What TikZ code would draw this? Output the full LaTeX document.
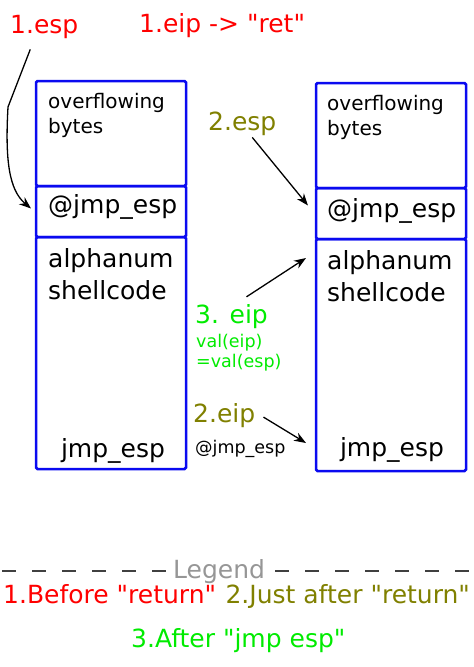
\documentclass[tikz,border=0pt]{standalone}
\usepackage{fontspec}
\setmainfont{DejaVu Sans}[Ligatures=TeXOff]
\usetikzlibrary{arrows.meta,calc,positioning}
\definecolor{stackblue}{RGB}{10,10,240}
\definecolor{redtext}{RGB}{255,0,0}
\definecolor{olivetext}{RGB}{128,128,0}
\definecolor{greentext}{RGB}{0,235,0}
\definecolor{legendgray}{RGB}{150,150,150}

\begin{document}
\begin{tikzpicture}[x=1pt,y=-1pt,
    cell/.style={draw=stackblue,line width=2.5pt,rounded corners=1.5pt,minimum width=150pt,inner sep=0pt,outer sep=0pt},
    big/.style={inner sep=0pt,font=\fontsize{25}{32}\selectfont},
    mid/.style={inner sep=0pt,font=\fontsize{20}{25}\selectfont},
    small/.style={inner sep=0pt,font=\fontsize{17.5}{20}\selectfont},
    ptr/.style={-{Stealth[length=12pt,width=9pt]},line width=1.3pt},
    legline/.style={line width=1.5pt,black!75,dash pattern=on 14pt off 16pt}]
            \useasboundingbox (0,0) rectangle (474,667);
            \node[cell,minimum height=105pt,anchor=north west] (ovlA) at (36,81) {};
            \node[cell,minimum height=51pt,below=0pt of ovlA] (jmpA) {};
            \node[cell,minimum height=232pt,below=0pt of jmpA] (shellA) {};
            \node[cell,minimum height=105pt,anchor=north west] (ovlB) at (316,83) {};
            \node[cell,minimum height=51pt,below=0pt of ovlB] (jmpB) {};
            \node[cell,minimum height=232pt,below=0pt of jmpB] (shellB) {};
            \node[mid,align=left,anchor=base west] (ovltxtA) at ($(ovlA.north west)+(12,52)$) {overflowing\\bytes};
            \node[big,anchor=base west] (jmptxtA) at ($(jmpA.north west)+(12,27)$) {@jmp\_esp};
            \node[big,align=left,anchor=base west] (shelltxtA) at ($(shellA.north west)+(12,62)$) {alphanum\\shellcode};
            \node[big,anchor=base] (endtxtA) at ($(shellA.south)+(2,-12)$) {jmp\_esp};
            \node[mid,align=left,anchor=base west] (ovltxtB) at ($(ovlB.north west)+(11,52)$) {overflowing\\bytes};
            \node[big,anchor=base west] (jmptxtB) at ($(jmpB.north west)+(11,29)$) {@jmp\_esp};
            \node[big,align=left,anchor=base west] (shelltxtB) at ($(shellB.north west)+(11,62)$) {alphanum\\shellcode};
            \node[big,anchor=base] (endtxtB) at ($(shellB.south)+(1,-15)$) {jmp\_esp};
            \node[big,text=redtext,anchor=base west] (esp1) at (10,33) {1.esp};
            \node[big,text=redtext,anchor=base west] (eip1) at (139,32) {1.eip -> "ret"};
            \node[big,text=olivetext,anchor=base west] (esp2) at (208,130) {2.esp};
            \node[big,text=greentext,anchor=base west] (eip3) at (195,323) {3. eip};
            \node[small,text=greentext,align=left,anchor=base west] (val3) at (196,367) {val(eip)\\=val(esp)};
            \node[big,text=olivetext,anchor=base west] (eip2) at (193,422) {2.eip};
            \node[small,anchor=base west] (jmpaddr) at (195,453) {@jmp\_esp};
            \draw[ptr] ($(esp1.south)+(-14,11)$) -- (8,107) .. controls (5,160) and (9,190) .. ($(jmpA.west)+(-5,-3)$);
            \draw[ptr] ($(esp2.south)+(10,2)$) -- ($(jmpB.west)+(-8,-8)$);
            \draw[ptr] ($(eip3.north)+(15,-7)$) -- ($(shellB.north west)+(-10,19)$);
            \draw[ptr] ($(eip2.east)+(8,2)$) -- ($(shellB.south west)+(-10,-28)$);
            \node[big,text=legendgray,anchor=base west,inner xsep=6pt] (legend) at (167,578) {Legend};
            \draw[legline] ($(legend.west)+(-165,0)$) -- (legend.west);
            \draw[legline] ($(legend.east)+(4,0)$) -- ($(legend.east)+(210,0)$);
            \node[big,text=redtext,anchor=base west] (leg1) at (3,603) {1.Before "return"};
            \node[big,text=olivetext,base right=9pt of leg1] (leg2) {2.Just after "return"};
            \node[big,text=greentext,anchor=base west] (leg3) at (131,647) {3.After "jmp esp"};
        \end{tikzpicture}
\end{document}
